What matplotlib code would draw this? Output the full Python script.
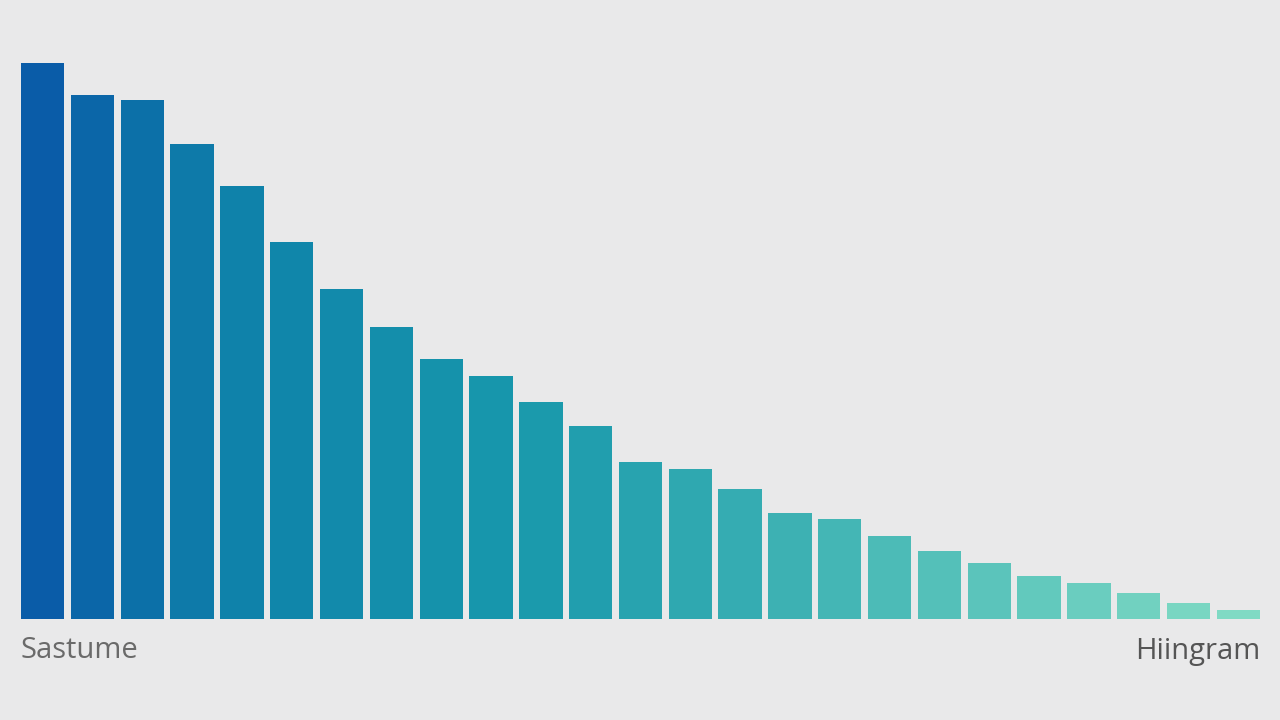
import numpy as np
import matplotlib.pyplot as plt
from matplotlib.colors import LinearSegmentedColormap

# bar heights (tallest = 100)
values = [100, 94.2, 93.3, 85.4, 77.9, 67.8, 59.4, 52.5, 46.8, 43.7,
          39.0, 34.7, 28.2, 27.0, 23.4, 19.1, 18.0, 14.9, 12.2, 10.1,
          7.7, 6.5, 4.7, 2.9, 1.6]
left_label = "Sastume"
right_label = "Hiingram"

bg = "#e9e9ea"
cmap = LinearSegmentedColormap.from_list(
    "bluegreen",
    [(0.0, "#0a5ca8"), (0.08, "#0c70a8"), (0.17, "#0f83aa"),
     (0.4, "#1898ac"), (0.6, "#38aeb2"), (0.8, "#5cc5bb"), (1.0, "#80dac4")])

fig = plt.figure(figsize=(12.8, 7.2), dpi=100, facecolor=bg)
ax = fig.add_axes([21 / 1280, 1 - 619 / 720, (1260 - 21) / 1280, (619 - 63) / 720])
ax.set_facecolor(bg)

x = np.arange(len(values))
colors = [cmap(i / (len(values) - 1)) for i in x]
ax.bar(x, values, width=0.87, color=colors, edgecolor="none")

ax.set_xlim(-0.435, len(values) - 1 + 0.435)
ax.set_ylim(0, 100)
ax.axis("off")

fig.text(21 / 1280, 1 - 651 / 720, left_label, ha="left", va="center",
         fontsize=21, color="#6a6a6a", family="Open Sans")
fig.text(1260 / 1280, 1 - 651 / 720, right_label, ha="right", va="center",
         fontsize=21, color="#555555", family="Open Sans")

fig.savefig("out.png", dpi=100, facecolor=bg)
